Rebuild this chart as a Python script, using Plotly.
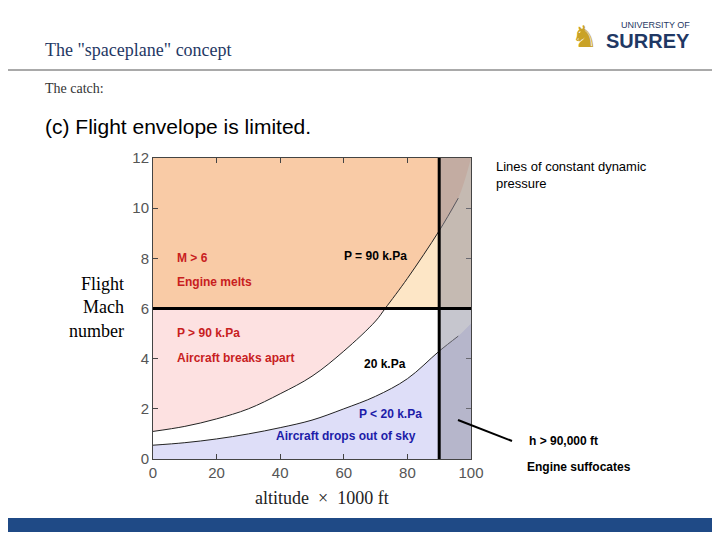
import plotly.graph_objects as go

alt_90 = [0, 10, 20, 30, 40, 50, 60, 70, 73, 80, 90, 96]
mach_90 = [1.1, 1.3, 1.6, 2.0, 2.6, 3.3, 4.3, 5.5, 6.0, 7.2, 9.1, 10.4]
alt_20 = [0, 10, 20, 30, 40, 50, 60, 70, 80, 90, 96]
mach_20 = [0.55, 0.65, 0.8, 1.0, 1.25, 1.55, 2.0, 2.5, 3.2, 4.3, 4.9]
mach_limit = 6
alt_limit = 90
x_ticks = [0, 20, 40, 60, 80, 100]
y_ticks = [0, 2, 4, 6, 8, 10, 12]

OFF = 8
W, H = 720 - 2 * OFF, 540 - 2 * OFF
L, R, T, B = 153 - OFF, 471 - OFF, 158 - OFF, 459 - OFF

def px(x):
    return (x - OFF - L) / (R - L)

def py(y):
    return (B - (y - OFF)) / (B - T)

fig = go.Figure()
fig.add_trace(go.Scatter(x=alt_90 + [100], y=mach_90 + [12], mode="lines", line=dict(width=0, shape="spline"),
                         fill="tozeroy", fillcolor="#fde6c6", hoverinfo="skip", showlegend=False))
fig.add_trace(go.Scatter(x=alt_90 + [100], y=[min(v, mach_limit) for v in mach_90] + [mach_limit], mode="lines",
                         line=dict(width=0), fill="tozeroy", fillcolor="white", hoverinfo="skip", showlegend=False))
fig.add_trace(go.Scatter(x=alt_20 + [100], y=mach_20 + [5.4], mode="lines", line=dict(width=0, shape="spline"),
                         fill="tozeroy", fillcolor="#dedef8", hoverinfo="skip", showlegend=False))
fig.add_trace(go.Scatter(x=alt_90, y=mach_90, mode="lines", line=dict(color="#222", width=1, shape="spline"),
                         hoverinfo="skip", showlegend=False))
fig.add_trace(go.Scatter(x=alt_20, y=mach_20, mode="lines", line=dict(color="#222", width=1, shape="spline"),
                         hoverinfo="skip", showlegend=False))

shapes = [
    dict(type="rect", xref="x", yref="y", x0=0, x1=100, y0=mach_limit, y1=12, fillcolor="#f9cba6", line_width=0, layer="below"),
    dict(type="rect", xref="x", yref="y", x0=0, x1=100, y0=0, y1=mach_limit, fillcolor="#fde1e1", line_width=0, layer="below"),
    dict(type="rect", xref="x", yref="y", x0=alt_limit, x1=100, y0=0, y1=12, fillcolor="#8e8e9e", opacity=0.5, line_width=0, layer="above"),
    dict(type="line", xref="x", yref="y", x0=0, x1=100, y0=mach_limit, y1=mach_limit, line=dict(color="black", width=3)),
    dict(type="line", xref="x", yref="y", x0=alt_limit, x1=alt_limit, y0=0, y1=12, line=dict(color="black", width=3)),
    dict(type="line", xref="paper", yref="paper", x0=px(458), x1=px(512), y0=py(420), y1=py(441), line=dict(color="black", width=2)),
    dict(type="line", xref="paper", yref="paper", x0=px(0), x1=px(720), y0=py(70), y1=py(70), line=dict(color="#555", width=1)),
    dict(type="rect", xref="paper", yref="paper", x0=px(0), x1=px(720), y0=py(518), y1=py(545), fillcolor="#1f4a86", line_width=0),
]

ann = []
def text(x, y, s, size=13, color="black", family="Arial", xanchor="left", bold=False):
    ann.append(dict(xref="paper", yref="paper", x=px(x), y=py(y), text=(f"<b>{s}</b>" if bold else s),
                    showarrow=False, xanchor=xanchor, yanchor="middle", align=xanchor if xanchor != "center" else "center",
                    font=dict(size=size, color=color, family=family)))

red = "#c8201e"
blue = "#1c1ca8"
text(43, 50, "The \"spaceplane\" concept", 18, "#1f3864", "Liberation Serif")
text(43, 88, "The catch:", 14, "#333", "Liberation Serif")
text(43, 126, "(c) Flight envelope is limited.", 21, "black", "Liberation Sans")
text(494, 175, "Lines of constant dynamic<br>pressure", 13, "black", "Liberation Sans")
text(175, 258, "M > 6", 12, red, bold=True)
text(175, 282, "Engine melts", 12, red, bold=True)
text(175, 333, "P > 90 k.Pa", 12, red, bold=True)
text(175, 358, "Aircraft breaks apart", 12, red, bold=True)
text(342, 256, "P = 90 k.Pa", 12, "black", bold=True)
text(362, 364, "20 k.Pa", 12, "black", bold=True)
text(390, 414, "P < 20 k.Pa", 12, blue, xanchor="center", bold=True)
text(346, 436, "Aircraft drops out of sky", 12, blue, xanchor="center", bold=True)
text(126, 307, "Flight<br>Mach<br>number", 18, "black", "Liberation Serif", xanchor="right")
text(322, 498, "altitude  ×  1000 ft", 18, "#222", "Liberation Serif", xanchor="center")
text(527, 441, "h > 90,000 ft", 12, "black", bold=True)
text(525, 467, "Engine suffocates", 12, "black", bold=True)
text(692, 25, "UNIVERSITY OF", 9, "#1f3864", "Liberation Sans", xanchor="right")
text(692, 41, "SURREY", 20, "#1f3864", "Liberation Sans", xanchor="right", bold=True)
text(584, 36, "♞", 30, "#c9a227", "DejaVu Sans", xanchor="center")

axis_common = dict(showgrid=False, zeroline=False, ticks="inside", ticklen=5, tickcolor="#444", mirror="ticks",
                   showline=True, linecolor="#444", linewidth=1, tickfont=dict(size=15, color="#555", family="Liberation Sans"))
fig.update_layout(
    width=W, height=H, margin=dict(l=L, r=W - R, t=T, b=H - B, pad=0),
    paper_bgcolor="white", plot_bgcolor="white", showlegend=False,
    xaxis=dict(range=[0, 100], tickvals=x_ticks, **axis_common),
    yaxis=dict(range=[0, 12], tickvals=y_ticks, **axis_common),
    shapes=shapes, annotations=ann,
)
fig.write_html("out.html")
